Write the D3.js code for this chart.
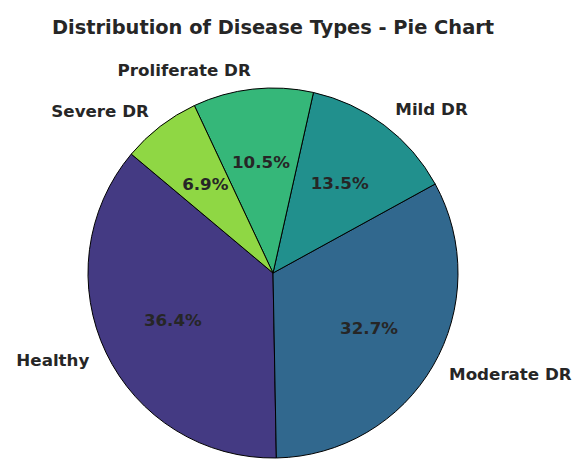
<!DOCTYPE html>
<html>
<head>
<meta charset="utf-8">
<script src="https://cdn.jsdelivr.net/npm/d3@7"></script>
<style>
  body { margin: 0; background: #fff; }
  svg { display: block; font-family: "DejaVu Sans", sans-serif; }
</style>
</head>
<body>
<svg id="chart"></svg>
<script>
// slice data, in matplotlib order (counter-clockwise from startangle)
const categories = ["Healthy", "Moderate DR", "Mild DR", "Proliferate DR", "Severe DR"];
const shares = [36.4, 32.7, 13.5, 10.5, 6.9];
const colors = ["#443a83", "#31688e", "#21908d", "#35b779", "#8fd744"];
const title = "Distribution of Disease Types - Pie Chart";

const width = 585, height = 470;
const cx = 273, cy = 273, radius = 185;
const startAngle = 140; // degrees, matplotlib style

const data = categories.map((c, i) => ({ name: c, value: shares[i], color: colors[i] }));

const svg = d3.select("#chart")
    .attr("width", width)
    .attr("height", height)
    .attr("viewBox", [0, 0, width, height]);

svg.append("text")
    .attr("x", cx)
    .attr("y", 34)
    .attr("text-anchor", "middle")
    .attr("font-size", 19.4)
    .attr("font-weight", "bold")
    .attr("fill", "#262626")
    .text(title);

// d3 angles: 0 at 12 o'clock, clockwise. matplotlib: 0 at 3 o'clock, counter-clockwise.
// so go the other way round: d3 angle = 90deg - math angle
const toRad = Math.PI / 180;
const pie = d3.pie()
    .value(d => d.value)
    .sort(null)
    .startAngle((90 - startAngle) * toRad)
    .endAngle((90 - startAngle - 360) * toRad);

const arcs = pie(data);
const arc = d3.arc().innerRadius(0).outerRadius(radius);

const g = svg.append("g").attr("transform", `translate(${cx},${cy})`);

g.selectAll("path")
  .data(arcs)
  .join("path")
    .attr("d", arc)
    .attr("fill", d => d.data.color)
    .attr("stroke", "#000")
    .attr("stroke-width", 1)
    .attr("stroke-linejoin", "round");

// point on the circle at a fraction of radius, for the mid angle of a slice
function midPoint(d, k) {
  const a = (d.startAngle + d.endAngle) / 2;
  return [Math.sin(a) * radius * k, -Math.cos(a) * radius * k];
}

// outer labels at 1.1 r
g.selectAll("text.label")
  .data(arcs)
  .join("text")
    .attr("class", "label")
    .attr("x", d => midPoint(d, 1.1)[0])
    .attr("y", d => midPoint(d, 1.1)[1])
    .attr("dy", "-0.06em")
    .attr("text-anchor", d => midPoint(d, 1.1)[0] > 0 ? "start" : "end")
    .attr("dominant-baseline", "central")
    .attr("font-size", 16.7)
    .attr("font-weight", "bold")
    .attr("fill", "#262626")
    .text(d => d.data.name);

// percentages at 0.6 r
g.selectAll("text.pct")
  .data(arcs)
  .join("text")
    .attr("class", "pct")
    .attr("x", d => midPoint(d, 0.6)[0])
    .attr("y", d => midPoint(d, 0.6)[1])
    .attr("dy", "-0.06em")
    .attr("text-anchor", "middle")
    .attr("dominant-baseline", "central")
    .attr("font-size", 16.7)
    .attr("font-weight", "bold")
    .attr("fill", "#262626")
    .text(d => d3.format(".1f")(d.data.value) + "%");
</script>
</body>
</html>
